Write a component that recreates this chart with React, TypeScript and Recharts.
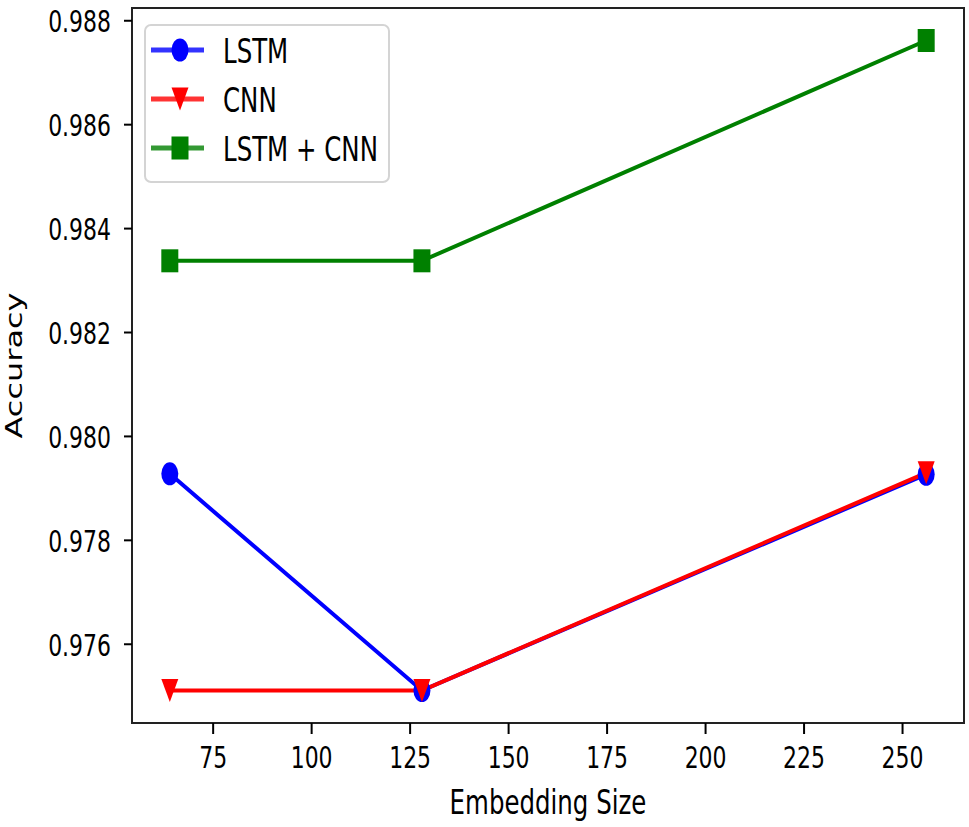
import React from "react";
import {
  LineChart,
  Line,
  XAxis,
  YAxis,
  Legend,
  Label,
  ReferenceArea,
} from "recharts";

// values
const embeddingSizes = [64, 128, 256];
const lstmAcc = [0.97928, 0.97511, 0.97927];
const cnnAcc = [0.97511, 0.97511, 0.9793];
const lstmCnnAcc = [0.98338, 0.98338, 0.98762];
const xTicks = [75, 100, 125, 150, 175, 200, 225, 250];
const yTicks = [0.976, 0.978, 0.98, 0.982, 0.984, 0.986, 0.988];
const seriesNames = ["LSTM", "CNN", "LSTM + CNN"];

const data = embeddingSizes.map((x, i) => ({
  x,
  lstm: lstmAcc[i],
  cnn: cnnAcc[i],
  lstmCnn: lstmCnnAcc[i],
}));

// matplotlib-like 5% padding around the data
const pad = (vals: number[]): [number, number] => {
  const lo = Math.min(...vals);
  const hi = Math.max(...vals);
  const m = (hi - lo) * 0.05;
  return [lo - m, hi + m];
};
const xDomain = pad(embeddingSizes);
const yDomain = pad([...lstmAcc, ...cnnAcc, ...lstmCnnAcc]);

const FONT = "DejaVu Sans";
const SQUEEZE = 0.72; // the figure is squashed horizontally

const SqText = ({ x, y, size, anchor = "start", rotate = 0, children }: any) => (
  <text
    transform={`translate(${x},${y}) scale(${SQUEEZE},1) rotate(${rotate})`}
    fontFamily={FONT}
    fontSize={size}
    fill="#000"
    textAnchor={anchor}
  >
    {children}
  </text>
);

// markers
const HW = 8.5;
const HH = 11.5;
const circleDot = (color: string) => (p: any) =>
  p.cx == null ? null : (
    <ellipse key={p.key} cx={p.cx} cy={p.cy} rx={HW} ry={HH} fill={color} />
  );
const triDot = (color: string) => (p: any) =>
  p.cx == null ? null : (
    <polygon
      key={p.key}
      points={`${p.cx - HW},${p.cy - HH} ${p.cx + HW},${p.cy - HH} ${p.cx},${p.cy + HH}`}
      fill={color}
    />
  );
const squareDot = (color: string) => (p: any) =>
  p.cx == null ? null : (
    <rect key={p.key} x={p.cx - HW} y={p.cy - HH} width={HW * 2} height={HH * 2} fill={color} />
  );

const series = [
  { key: "lstm", name: seriesNames[0], color: "#0000ff", dot: circleDot },
  { key: "cnn", name: seriesNames[1], color: "#ff0000", dot: triDot },
  { key: "lstmCnn", name: seriesNames[2], color: "#008000", dot: squareDot },
];

const XTick = ({ x, y, payload }: any) => (
  <SqText x={x} y={y + 34} size={30.5} anchor="middle">
    {payload.value}
  </SqText>
);

const YTick = ({ x, y, payload }: any) => (
  <SqText x={x - 13} y={y + 11.5} size={30.5} anchor="end">
    {Number(payload.value).toFixed(3)}
  </SqText>
);

const LegendBox = () => (
  <svg width={246} height={159}>
    <rect x={1} y={1} width={244} height={157} rx={6} fill="#fff" stroke="#d4d4d4" strokeWidth={2} />
    {series.map((s, i) => {
      const ly = 26 + i * 49;
      return (
        <g key={s.key}>
          <line x1={7} x2={60} y1={ly} y2={ly} stroke={s.color} strokeWidth={5} strokeOpacity={0.8} />
          {s.dot(s.color)({ cx: 36, cy: ly })}
          <SqText x={79} y={ly + 13} size={34}>
            {s.name}
          </SqText>
        </g>
      );
    })}
  </svg>
);

export default function App() {
  return (
    <div style={{ position: "absolute", left: 0, top: 0, background: "#fff" }}>
      <LineChart
        width={969}
        height={827}
        data={data}
        margin={{ top: 8, right: 5, bottom: 0, left: 0 }}
      >
        <ReferenceArea
          x1={xDomain[0]}
          x2={xDomain[1]}
          y1={yDomain[0]}
          y2={yDomain[1]}
          fill="none"
          stroke="#222"
          strokeWidth={2}
          ifOverflow="visible"
        />
        <XAxis
          type="number"
          dataKey="x"
          domain={xDomain}
          ticks={xTicks}
          allowDataOverflow
          height={104}
          axisLine={false}
          tickSize={11}
          tickMargin={0}
          tickLine={{ stroke: "#000", strokeWidth: 2 }}
          tick={<XTick />}
        >
          <Label
            content={({ viewBox }: any) => (
              <SqText x={viewBox.x + viewBox.width / 2} y={viewBox.y + 91} size={34} anchor="middle">
                Embedding Size
              </SqText>
            )}
          />
        </XAxis>
        <YAxis
          type="number"
          domain={yDomain}
          ticks={yTicks}
          allowDataOverflow
          width={132}
          axisLine={false}
          tickSize={8}
          tickMargin={0}
          tickLine={{ stroke: "#000", strokeWidth: 2 }}
          tick={<YTick />}
        >
          <Label
            content={({ viewBox }: any) => (
              <SqText x={21.5} y={viewBox.y + viewBox.height / 2} size={32} anchor="middle" rotate={-90}>
                Accuracy
              </SqText>
            )}
          />
        </YAxis>
        <Legend
          layout="vertical"
          align="center"
          verticalAlign="middle"
          width={246}
          height={159}
          wrapperStyle={{ left: 144, top: 24, width: 246, height: 159 }}
          content={() => <LegendBox />}
        />
        {series.map((s) => (
          <Line
            key={s.key}
            type="linear"
            dataKey={s.key}
            name={s.name}
            stroke={s.color}
            strokeWidth={4}
            dot={s.dot(s.color)}
            activeDot={false}
            isAnimationActive={false}
          />
        ))}
      </LineChart>
    </div>
  );
}
